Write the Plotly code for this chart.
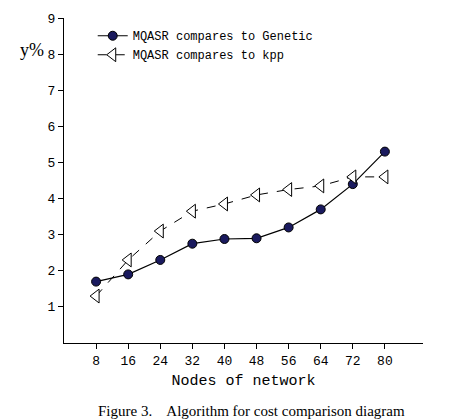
import plotly.graph_objects as go

nodes = [8, 16, 24, 32, 40, 48, 56, 64, 72, 80]
genetic = [1.7, 1.9, 2.3, 2.75, 2.88, 2.9, 3.2, 3.7, 4.4, 5.3]
kpp = [1.3, 2.3, 3.1, 3.65, 3.85, 4.1, 4.25, 4.35, 4.6, 4.6]
yticks = [1, 2, 3, 4, 5, 6, 7, 8, 9]

fig = go.Figure()
fig.add_trace(go.Scatter(x=nodes, y=genetic, mode="lines+markers", name="MQASR compares to Genetic",
    line=dict(color="black", width=1.2),
    marker=dict(symbol="circle", size=9, color="#1a1a5e", line=dict(color="black", width=1))))
fig.add_trace(go.Scatter(x=nodes, y=kpp, mode="lines+markers", name="MQASR compares to kpp",
    line=dict(color="black", width=1, dash="dash"),
    marker=dict(symbol="triangle-left", size=12, color="white", line=dict(color="black", width=1))))

fig.update_layout(
    width=474, height=420, margin=dict(l=56, r=59, t=10, b=85, autoexpand=False),
    paper_bgcolor="white", plot_bgcolor="white",
    font=dict(family="Liberation Serif", size=13, color="black"),
    showlegend=True,
    legend=dict(x=0.08, y=0.99, xanchor="left", yanchor="top", bgcolor="rgba(0,0,0,0)",
                font=dict(family="Liberation Mono", size=12)),
    xaxis=dict(range=[0, 89.5], tickvals=nodes, showline=True, linecolor="black", ticks="outside",
               tickcolor="black", ticklen=5, showgrid=False, zeroline=False, automargin=False,
               tickfont=dict(family="Liberation Mono", size=13),
               title=dict(text="Nodes of network", font=dict(family="Liberation Mono", size=15), standoff=6)),
    yaxis=dict(range=[0, 9], tickvals=yticks, showline=True, linecolor="black", ticks="outside",
               tickcolor="black", ticklen=5, showgrid=False, zeroline=False, automargin=False,
               tickfont=dict(family="Liberation Mono", size=13)),
    annotations=[
        dict(text="y%", x=0, y=1, xref="paper", yref="paper", xanchor="right", yanchor="top",
             xshift=-18, yshift=-20, showarrow=False, font=dict(size=18)),
        dict(text="Figure 3.    Algorithm for cost comparison diagram", x=0.5, y=0, xref="paper",
             yref="paper", xanchor="center", yanchor="top", yshift=-58, showarrow=False,
             xshift=8, font=dict(size=15)),
    ],
)
fig.write_html("out.html")
